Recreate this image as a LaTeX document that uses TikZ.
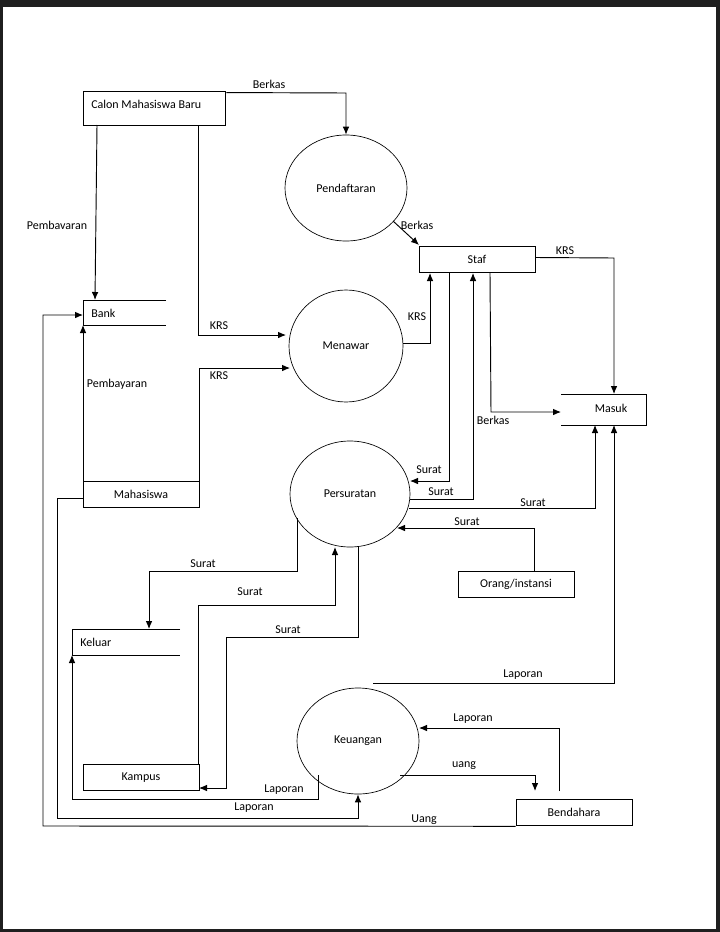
\documentclass[tikz,border=0pt]{standalone}
\usepackage{fontspec}
\setmainfont{Carlito}
\usetikzlibrary{arrows.meta,shapes.geometric}
\begin{document}
\begin{tikzpicture}[x=0.75pt,y=-0.75pt,
  lw/.style={line width=0.7pt},
  ln/.style={draw,lw,-{Latex[length=6pt,width=5pt]}},
  pl/.style={draw,lw},
  lab/.style={font=\fontsize{9}{10}\selectfont,inner sep=0pt},
  ent/.style={draw,lw,minimum height=20pt,font=\fontsize{9}{10}\selectfont,inner sep=0pt},
  proc/.style={draw,line width=0.5pt,ellipse,font=\fontsize{9}{10}\selectfont,inner sep=0pt}]
\fill[black!88] (0,0) rectangle (720,932);
\fill[white] (3,7) rectangle (716,929);
\useasboundingbox (0,0) rectangle (720,932);
% entities
\node[ent,minimum width=107pt,minimum height=25.5pt] (cmb) at (154.5,108) {};
\node[lab,anchor=west] (cmbt) at (91,104) {Calon Mahasiswa Baru};
\node[ent,minimum width=87pt] (staf) at (477,259.5) {Staf};
\node[ent,minimum width=87pt] (mhs) at (141,494.5) {Mahasiswa};
\node[ent,minimum width=87pt] (kampus) at (141,777.5) {Kampus};
\node[ent,minimum width=87pt] (orang) at (516,584.5) {Orang/instansi};
\node[ent,minimum width=87pt] (bend) at (574,812.5) {Bendahara};
% processes
\node[proc,minimum width=91.5pt,minimum height=79.5pt] (pend) at (346,188) {Pendaftaran};
\node[proc,minimum width=85.5pt,minimum height=84pt] (menawar) at (346,346) {Menawar};
\node[proc,minimum width=90pt,minimum height=79.5pt] (pers) at (350,494) {Persuratan};
\node[proc,minimum width=91.5pt,minimum height=79.5pt] (keu) at (358,741) {Keuangan};
% stores
\draw[lw] (166,300) -- (83,300) -- (83,325) -- (166,325);
\node[lab,anchor=west] (bank) at (91,313) {Bank};
\draw[lw] (180,629) -- (72,629) -- (72,655) -- (180,655);
\node[lab,anchor=west] (keluar) at (80,642) {Keluar};
\draw[lw] (561,394) -- (646,394) -- (646,425) -- (561,425);
\node[lab] (masuk) at (611,408) {Masuk};
% coordinates
\coordinate (bankT) at (95,300);
\coordinate (bankB) at (83,325);
\coordinate (bankL) at (83,315);
\coordinate (keluarT) at (149,629);
\coordinate (keluarB) at (72,655);
\coordinate (masukT) at (614,394);
\coordinate (masukL) at (561,412);
\coordinate (masukB1) at (595,425);
\coordinate (masukB2) at (614,425);
% flows
\draw[ln] (cmb.north east) ++(0,2) -- (346,93) -- (pend.north);
\node[lab] at (269,84) {Berkas};
\draw[ln] (97,125) -- (bankT);
\node[lab] at (57,225) {Pembavaran};
\draw[ln] (198,125) -- (198,335) -- (286,335);
\node[lab] at (219,326) {KRS};
\draw[ln] (393,221) -- (419,245);
\node[lab] at (417,225) {Berkas};
\draw[ln] (403,343) -- (430,343) -- (430,273);
\node[lab] at (417,317) {KRS};
\draw[ln] (staf.east) ++(0,-2) -- (614,258) -- (masukT);
\node[lab] at (565,251) {KRS};
\draw[ln] (490,273) -- (491,412) -- (masukL);
\node[lab] at (493,420) {Berkas};
\draw[ln] (449,273) -- (449,481) -- (410,481);
\node[lab] at (429,470) {Surat};
\draw[ln] (410,499) -- (473,499) -- (473,273);
\node[lab] at (441,492) {Surat};
\draw[ln] (409,508) -- (595,508) -- (masukB1);
\node[lab] at (533,503) {Surat};
\draw[ln] (534,571) -- (534,528) -- (397,528);
\node[lab] at (467,522) {Surat};
\draw[ln] (297,518) -- (297,571) -- (149,571) -- (keluarT);
\node[lab] at (203,564) {Surat};
\draw[ln] (198,764) -- (198,605) -- (335,605) -- (335,547);
\node[lab] at (250,592) {Surat};
\draw[ln] (358,547) -- (358,637) -- (226,637) -- (226,788) -- (199,788);
\node[lab] at (288,630) {Surat};
\draw[ln] (83,481) -- (bankB);
\node[lab] at (117,384) {Pembayaran};
\draw[ln] (199,481) -- (199,368) -- (290,368);
\node[lab] at (219,376) {KRS};
\draw[ln] (83,498) -- (57,498) -- (57,818) -- (358,818) -- (keu.south);
\node[lab] at (254,808) {Laporan};
\draw[ln] (318,775) -- (318,799) -- (72,799) -- (keluarB);
\node[lab] at (284,790) {Laporan};
\draw[ln] (373,683) -- (614,683) -- (masukB2);
\node[lab] at (523,675) {Laporan};
\draw[ln] (559,791) -- (559,728) -- (419,728);
\node[lab] at (473,719) {Laporan};
\draw[ln] (400,775) -- (535,775) -- (535,791);
\node[lab] at (464,766) {uang};
\draw[ln] (bend.south west) -- (43,826) -- (43,315) -- (bankL);
\node[lab] at (424,820) {Uang};
\end{tikzpicture}
\end{document}
